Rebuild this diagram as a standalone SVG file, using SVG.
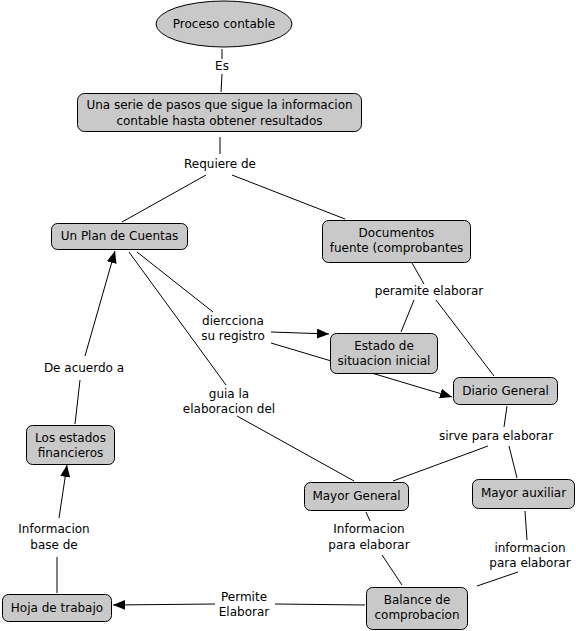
<svg xmlns="http://www.w3.org/2000/svg" width="576" height="631" viewBox="0 0 576 631">
<style>
.n{fill:#c9c9c9;stroke:#000;stroke-width:1}
.t{font-family:"DejaVu Sans",Verdana,sans-serif;font-size:12px;fill:#000;text-anchor:middle}
.c{stroke:#000;stroke-width:1;fill:none}
.a{marker-end:url(#ah)}
</style>
<defs>
<marker id="ah" markerUnits="userSpaceOnUse" markerWidth="13" markerHeight="11" refX="12" refY="5" orient="auto">
<path d="M0,0 L12,5 L0,10 z" fill="#000"/>
</marker>
</defs>
<rect width="576" height="631" fill="#fff"/>
<g id="connectors">
<line class="c" x1="222" y1="49" x2="222" y2="59"/>
<line class="c" x1="222" y1="74" x2="221" y2="92"/>
<line class="c" x1="220" y1="137" x2="220" y2="154"/>
<line class="c" x1="206" y1="175" x2="122" y2="222"/>
<line class="c" x1="232" y1="175" x2="345" y2="219"/>
<line class="c" x1="137" y1="252" x2="213" y2="312"/>
<line class="c a" x1="271" y1="332" x2="329" y2="334"/>
<line class="c a" x1="271" y1="343" x2="452" y2="397"/>
<line class="c" x1="129" y1="252" x2="226" y2="385"/>
<line class="c" x1="237" y1="416" x2="354" y2="481"/>
<line class="c" x1="412" y1="263" x2="424" y2="284"/>
<line class="c" x1="414" y1="300" x2="401" y2="332"/>
<line class="c" x1="436" y1="300" x2="494" y2="376"/>
<line class="c" x1="507" y1="406" x2="504" y2="427"/>
<line class="c" x1="488" y1="446" x2="393" y2="481"/>
<line class="c" x1="509" y1="446" x2="517" y2="478"/>
<line class="c" x1="366" y1="512" x2="370" y2="521"/>
<line class="c" x1="382" y1="555" x2="402" y2="585"/>
<line class="c" x1="525" y1="511" x2="527" y2="540"/>
<line class="c" x1="518" y1="572" x2="477" y2="586"/>
<line class="c" x1="365" y1="605" x2="275" y2="604"/>
<line class="c a" x1="215" y1="604" x2="113" y2="605"/>
<line class="c" x1="57" y1="593" x2="57" y2="557"/>
<line class="c a" x1="59" y1="518" x2="67" y2="465"/>
<line class="c" x1="75" y1="424" x2="80" y2="380"/>
<line class="c a" x1="85" y1="356" x2="115" y2="251"/>
</g>
<g id="labels">
<text class="t" x="222" y="70">Es</text>
<text class="t" x="220" y="168">Requiere de</text>
<text class="t" x="429" y="295">peramite elaborar</text>
<text class="t" x="233" y="325">diercciona</text>
<text class="t" x="233" y="340">su registro</text>
<text class="t" x="84" y="372">De acuerdo a</text>
<text class="t" x="229" y="398">guia la</text>
<text class="t" x="229" y="413">elaboracion del</text>
<text class="t" x="496" y="440">sirve para elaborar</text>
<text class="t" x="369" y="533">Informacion</text>
<text class="t" x="369" y="549">para elaborar</text>
<text class="t" x="530" y="552">informacion</text>
<text class="t" x="530" y="567">para elaborar</text>
<text class="t" x="54" y="533">Informacion</text>
<text class="t" x="54" y="549">base de</text>
<text class="t" x="244" y="601">Permite</text>
<text class="t" x="244" y="616">Elaborar</text>
</g>
<g id="n1"><ellipse class="n" cx="224" cy="24" rx="68" ry="23"/><text class="t" x="224" y="28">Proceso contable</text></g>
<g id="n2"><rect class="n" x="77.5" y="93.5" width="284" height="38" rx="7"/><text class="t" x="219.5" y="109">Una serie de pasos que sigue la informacion</text><text class="t" x="219.5" y="125">contable hasta obtener resultados</text></g>
<g id="n3"><rect class="n" x="51.5" y="223.5" width="136" height="26" rx="6"/><text class="t" x="119.5" y="240">Un Plan de Cuentas</text></g>
<g id="n4"><rect class="n" x="322.5" y="220.5" width="148" height="42" rx="6"/><text class="t" x="396.5" y="237">Documentos</text><text class="t" x="396.5" y="252">fuente (comprobantes</text></g>
<g id="n5"><rect class="n" x="330.5" y="333.5" width="107" height="40" rx="6"/><text class="t" x="384" y="350">Estado de</text><text class="t" x="384" y="365">situacion inicial</text></g>
<g id="n6"><rect class="n" x="453.5" y="377.5" width="104" height="27" rx="6"/><text class="t" x="505.5" y="395">Diario General</text></g>
<g id="n7"><rect class="n" x="26.5" y="425.5" width="88" height="39" rx="6"/><text class="t" x="70.5" y="442">Los estados</text><text class="t" x="70.5" y="457">financieros</text></g>
<g id="n8"><rect class="n" x="304.5" y="482.5" width="104" height="28" rx="6"/><text class="t" x="356.5" y="500">Mayor General</text></g>
<g id="n9"><rect class="n" x="472.5" y="479.5" width="102" height="29" rx="6"/><text class="t" x="523.5" y="497">Mayor auxiliar</text></g>
<g id="n10"><rect class="n" x="2.5" y="594.5" width="109" height="27" rx="6"/><text class="t" x="57" y="612">Hoja de trabajo</text></g>
<g id="n11"><rect class="n" x="366.5" y="587.5" width="101" height="42" rx="6"/><text class="t" x="417" y="604">Balance de</text><text class="t" x="417" y="619">comprobacion</text></g>
</svg>
